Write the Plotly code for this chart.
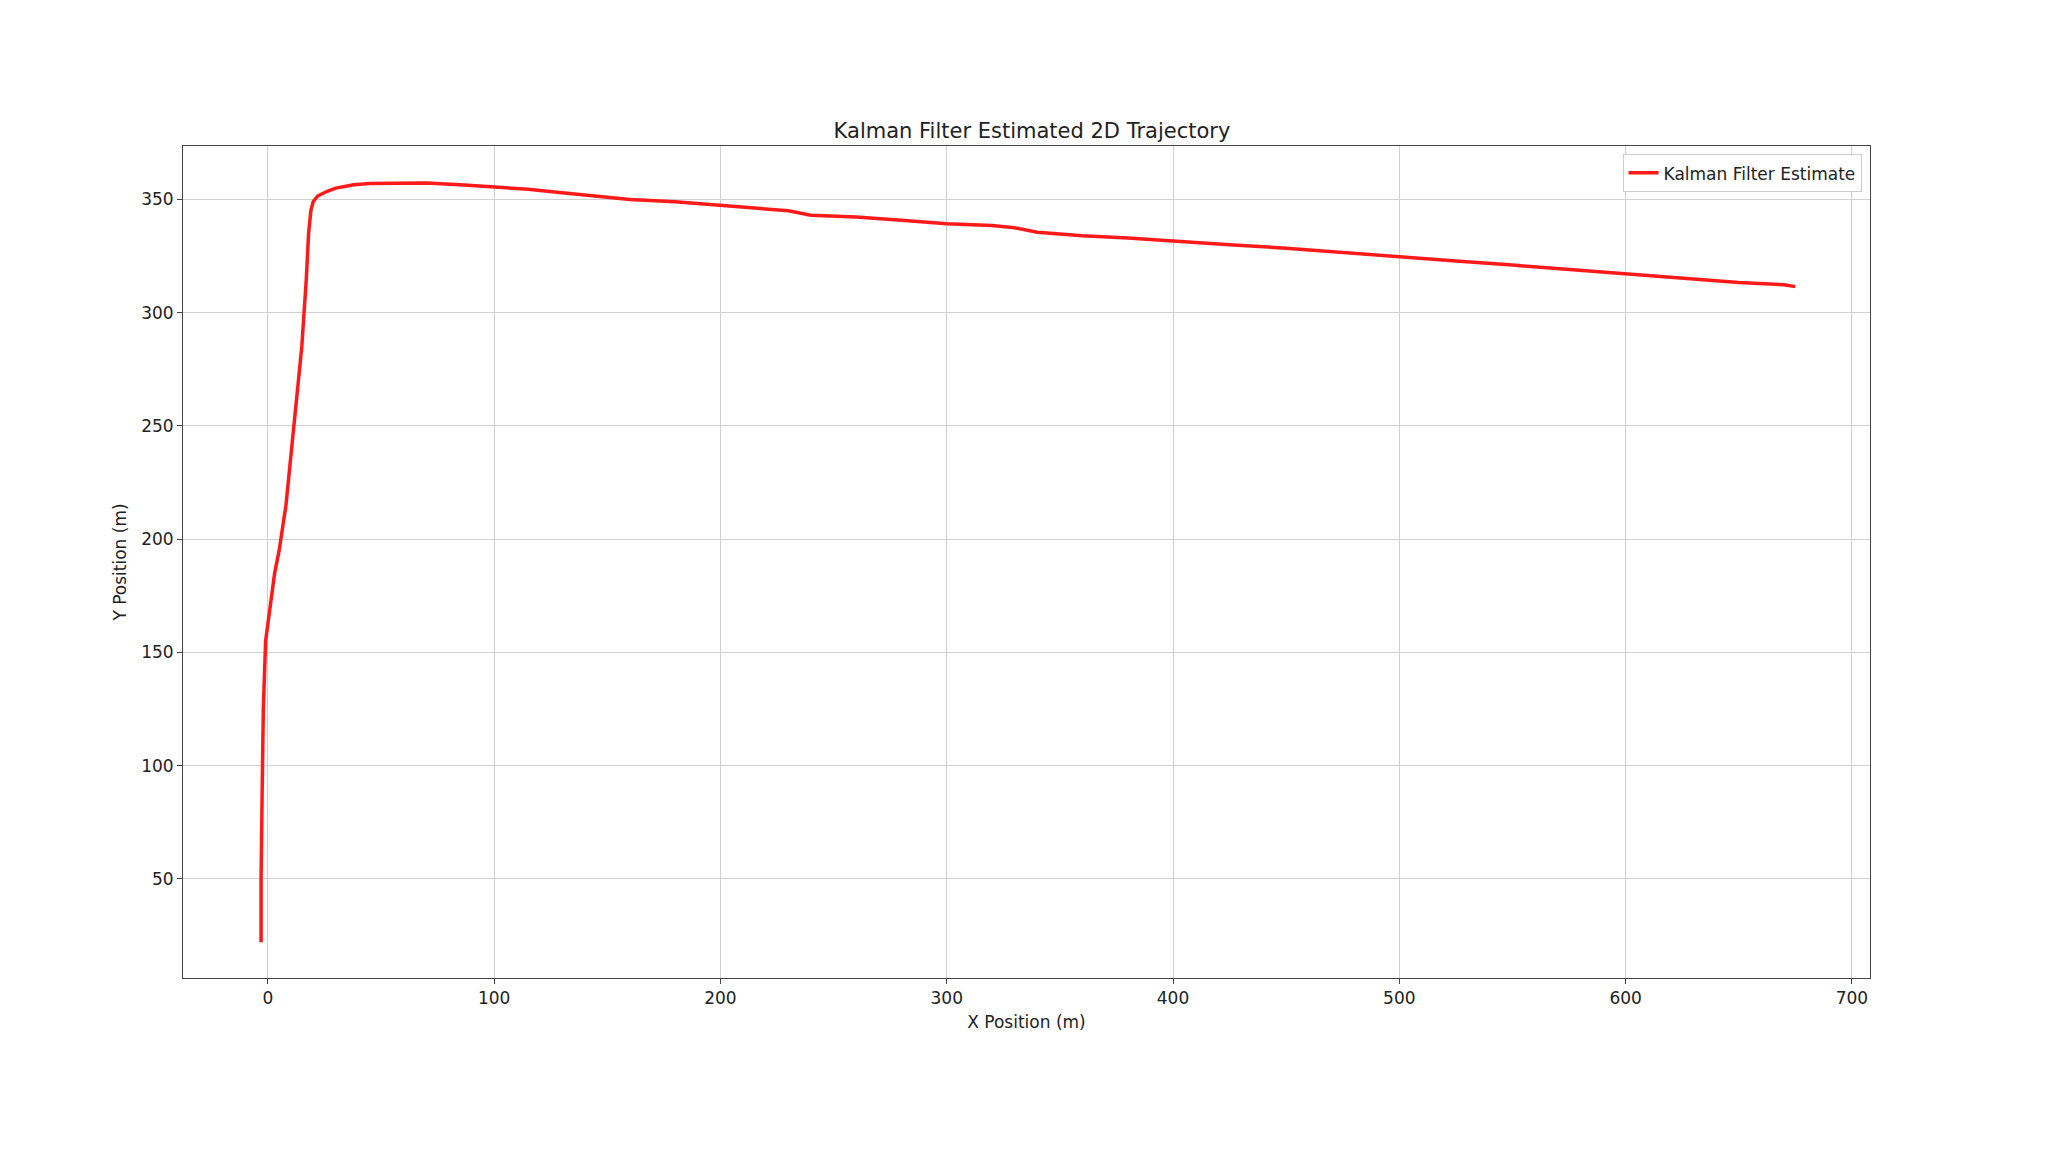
import plotly.graph_objects as go

x_pos = [-3, -3, -2.5, -2, -1, 1, 3, 5, 8, 10, 12, 15, 17, 18, 19, 20, 22, 26, 30, 38, 45, 55, 70, 85, 100, 115, 130, 145, 160, 180, 200, 215, 230, 240, 260, 280, 300, 320, 330, 340, 360, 380, 400, 425, 450, 475, 500, 525, 550, 575, 600, 625, 650, 670, 675]
y_pos = [22, 50, 90, 125, 155, 170, 185, 195, 215, 235, 255, 285, 315, 335, 345, 349, 351.5, 353.5, 355, 356.5, 357, 357.2, 357.3, 356.5, 355.5, 354.5, 353, 351.5, 350, 349, 347.5, 346.5, 345, 343, 342.2, 340.8, 339.3, 338.5, 337.5, 335.5, 334, 333, 331.5, 330, 328.5, 326.5, 324.5, 322.8, 321, 319, 317.2, 315.3, 313.3, 312.3, 311.5]

fig = go.Figure(go.Scatter(x=x_pos, y=y_pos, mode="lines", name="Kalman Filter Estimate",
                           line=dict(color="#ff1a1a", width=3.5), showlegend=True))
fig.update_layout(
    width=2048, height=1154, paper_bgcolor="white", plot_bgcolor="white",
    margin=dict(l=175, r=186, t=138, b=184),
    font=dict(family="DejaVu Sans", color="#222", size=17),
    title=dict(text="Kalman Filter Estimated 2D Trajectory", x=0.5, xanchor="center", y=1 - 123/1154, yanchor="middle", font=dict(size=21)),
    legend=dict(x=0.995, y=0.99, xanchor="right", yanchor="top", bordercolor="#ccc", borderwidth=1, bgcolor="white", font=dict(size=17)),
)
fig.update_xaxes(range=[-37.5, 708], tickvals=[0,100,200,300,400,500,600,700], showgrid=True, gridcolor="#d0d0d0",
                 showline=True, mirror=True, linecolor="#444", ticks="outside", zeroline=False,
                 title=dict(text="X Position (m)", font=dict(size=17), standoff=8))
fig.update_yaxes(range=[6.2, 373.6], tickvals=[50,100,150,200,250,300,350], showgrid=True, gridcolor="#d0d0d0",
                 showline=True, mirror=True, linecolor="#444", ticks="outside", zeroline=False,
                 title=dict(text="Y Position (m)", font=dict(size=17), standoff=10))
fig.write_html("out.html")
